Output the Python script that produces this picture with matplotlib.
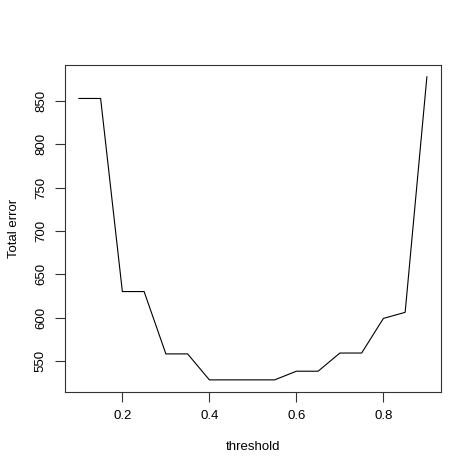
import matplotlib
matplotlib.use("Agg")
import matplotlib.pyplot as plt

# --- Data ---
threshold = [0.1, 0.15, 0.2, 0.25, 0.3, 0.35, 0.4, 0.45, 0.5,
             0.55, 0.6, 0.65, 0.7, 0.75, 0.8, 0.85, 0.9]
total_error = [853, 853, 630, 630, 558, 558, 528, 528, 528,
               528, 538, 538, 559, 559, 599, 606, 878]
x_ticks = [0.2, 0.4, 0.6, 0.8]
y_ticks = [550, 600, 650, 700, 750, 800, 850]

plt.rcParams["font.family"] = ["Liberation Sans", "DejaVu Sans"]
FS = 9.5

fig = plt.figure(figsize=(4.74, 4.74), dpi=100)
ax = fig.add_axes([0.137, 0.173, 0.793, 0.6905])

ax.plot(threshold, total_error, color="black", linewidth=0.8)

# R-style 4% padding
xr = max(threshold) - min(threshold)
yr = max(total_error) - min(total_error)
ax.set_xlim(min(threshold) - 0.04 * xr, max(threshold) + 0.04 * xr)
ax.set_ylim(min(total_error) - 0.04 * yr, max(total_error) + 0.04 * yr)

ax.set_xticks(x_ticks)
ax.set_xticklabels([f"{t:.1f}" for t in x_ticks])
ax.set_yticks(y_ticks)
ax.set_yticklabels([str(t) for t in y_ticks], rotation=90, va="center")

for s in ax.spines.values():
    s.set_linewidth(0.8)
    s.set_color("#333333")
ax.tick_params(axis="both", length=7, width=0.8, color="#333333", labelsize=FS, pad=6)

ax.set_xlabel("threshold", fontsize=FS, labelpad=14)
ax.set_ylabel("Total error", fontsize=FS, labelpad=11)

fig.savefig("out.png", dpi=100)
